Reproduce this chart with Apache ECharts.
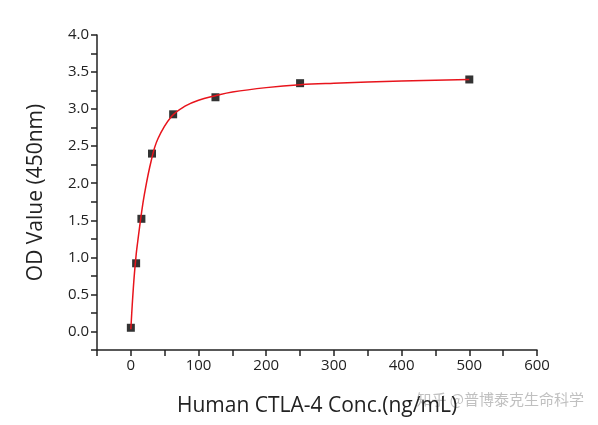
<!DOCTYPE html><html><head><meta charset="utf-8"><script src="https://cdn.jsdelivr.net/npm/echarts@6/dist/echarts.min.js"></script></head><body style="margin:0;background:#fff"><div id="c" style="width:598px;height:425px"></div><script>
const conc=[0,7.8,15.6,31.25,62.5,125,250,500];
const od=[0.05,0.92,1.52,2.40,2.93,3.16,3.35,3.40];
const fitX=[0,2,5,8,10,15,20,30,40,60,80,100,125,150,200,250,300,400,500];
const fitY=[0.03,0.35,0.75,1.05,1.2,1.55,1.85,2.3,2.6,2.9,3.04,3.12,3.18,3.23,3.29,3.33,3.35,3.38,3.40];
const ch=echarts.init(document.getElementById('c'));
const ax={fontFamily:'Open Sans',fontSize:15,color:'#222'};
ch.setOption({animation:false,
grid:{left:97,right:61,top:35,bottom:75},
xAxis:{type:'value',min:-50,max:600,interval:50,name:'Human CTLA-4 Conc.(ng/mL)',nameLocation:'middle',nameGap:46,
nameTextStyle:{fontFamily:'Open Sans',fontSize:21,color:'#222'},
axisLine:{onZero:false,lineStyle:{color:'#222',width:1.5}},axisTick:{lineStyle:{color:'#222',width:1.5},length:6},
axisLabel:Object.assign({formatter:v=>(v>=0&&v%100===0)?v:''},ax),splitLine:{show:false}},
yAxis:{type:'value',min:-0.25,max:4,interval:0.25,name:'OD Value (450nm)',nameLocation:'middle',nameGap:50,
nameTextStyle:{fontFamily:'Open Sans',fontSize:21,color:'#222'},
axisLine:{show:true,onZero:false,lineStyle:{color:'#222',width:1.5}},axisTick:{show:true,lineStyle:{color:'#222',width:1.5},length:6},
axisLabel:Object.assign({formatter:v=>(v>=0&&Math.abs(v*2-Math.round(v*2))<1e-6)?v.toFixed(1):''},ax),splitLine:{show:false}},
series:[{type:'line',data:fitX.map((x,i)=>[x,fitY[i]]),smooth:0.4,showSymbol:false,lineStyle:{color:'#e8141c',width:1.5}},
{type:'scatter',data:conc.map((x,i)=>[x,od[i]]),symbol:'rect',symbolSize:8,itemStyle:{color:'#000'}}],
graphic:[{type:'text',right:14,top:392,style:{text:'知乎 @普博泰克生命科学',fontFamily:'Noto Sans CJK SC',fontSize:15,fill:'rgba(130,130,130,0.5)'}}]
});
</script></body></html>
